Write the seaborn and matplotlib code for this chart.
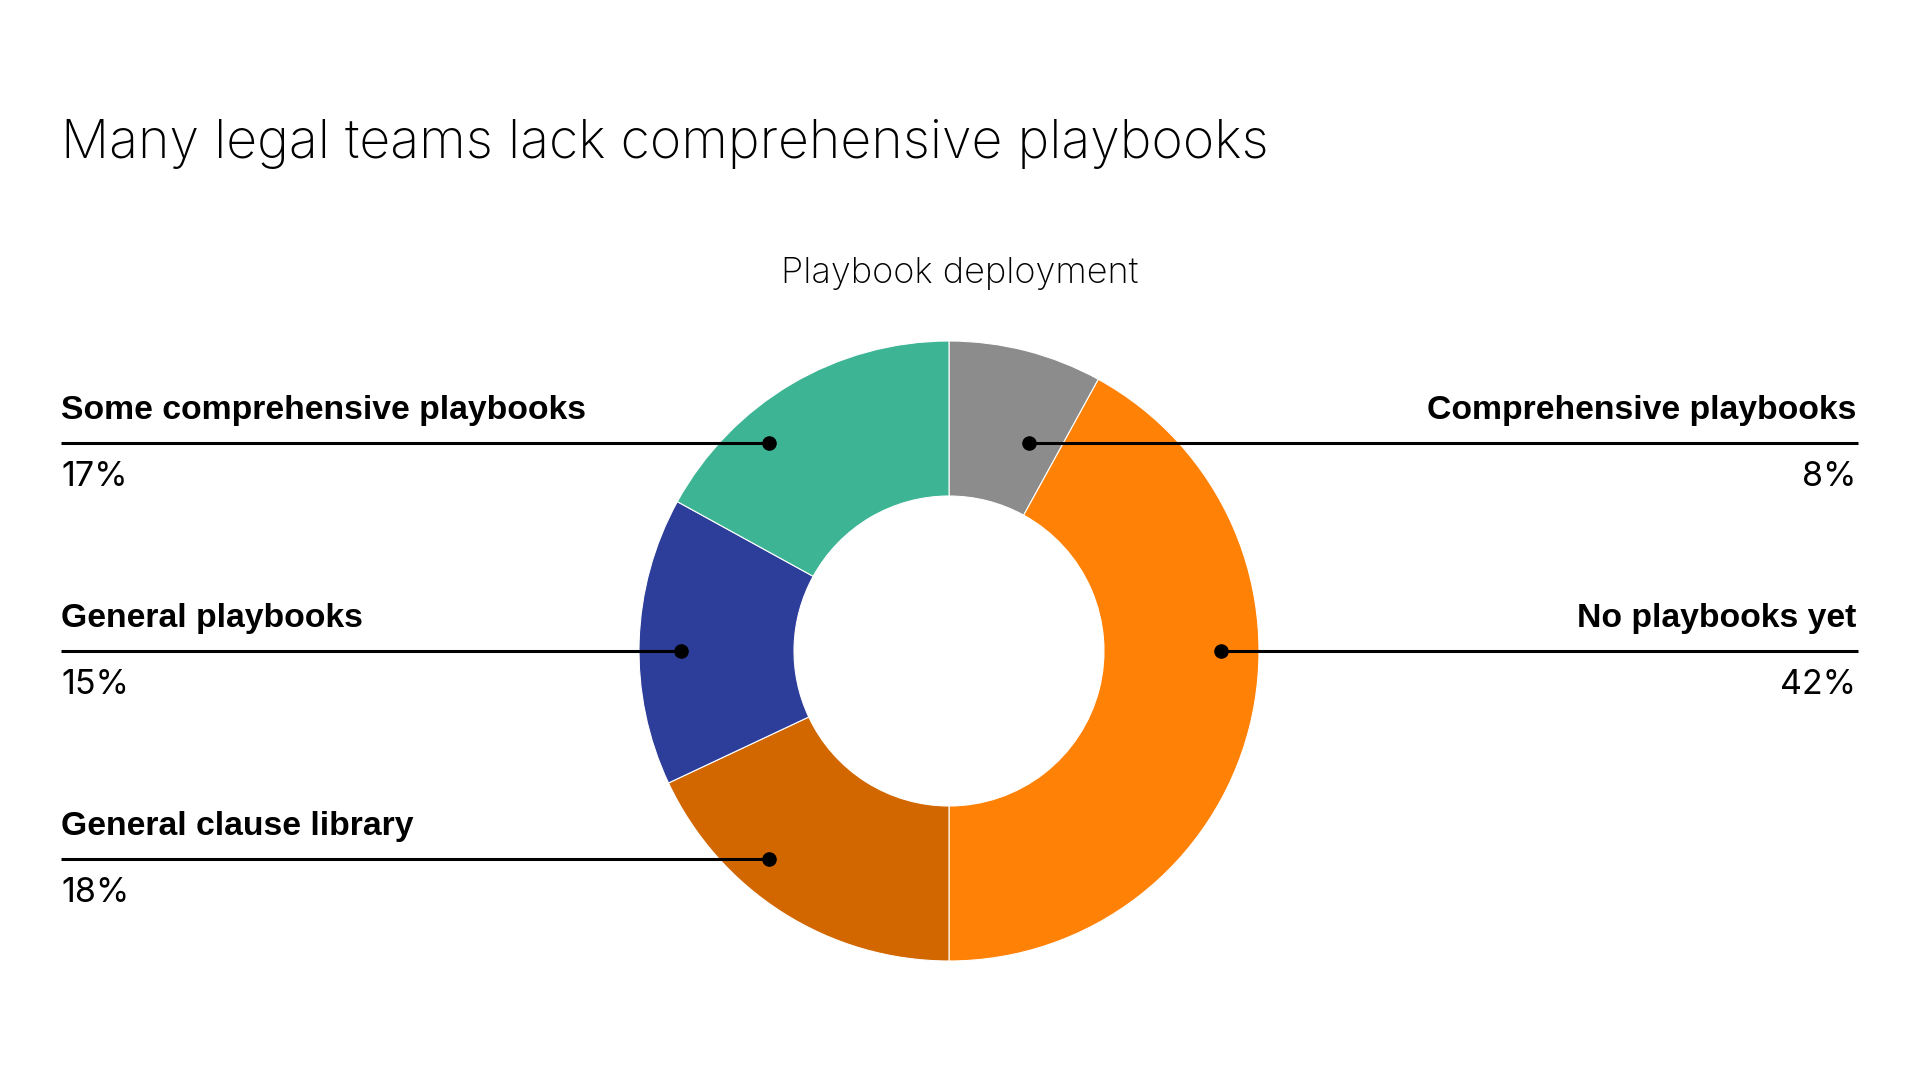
import matplotlib
matplotlib.use("Agg")
import matplotlib.pyplot as plt
import seaborn as sns

# data (clockwise from 12 o'clock)
categories = ["Comprehensive playbooks", "No playbooks yet", "General clause library",
              "General playbooks", "Some comprehensive playbooks"]
shares = [8, 42, 18, 15, 17]
slice_colors = ["#8c8c8c", "#ff8106", "#d26700", "#2d3d9a", "#3db595"]

TITLE = "Many legal teams lack comprehensive playbooks"
SUBTITLE = "Playbook deployment"

# layout (figure pixels, y up)
W, H = 1920, 1080
CX, CY = 949, 429
R = 310
ROW_STEP = 208
LEFT_X, RIGHT_X = 61, 1858
label_side = ["right", "right", "left", "left", "left"]
label_row = [1, 0, -1, 0, 1]
dot_dx = [0.258, 0.877, -0.58, -0.865, -0.58]   # fraction of R

sns.set_theme(style="white")
plt.rcParams["font.family"] = ["Liberation Sans", "DejaVu Sans"]
plt.rcParams["text.color"] = "black"

fig = plt.figure(figsize=(19.2, 10.8), dpi=100)
ax = fig.add_axes([0, 0, 1, 1])

palette = sns.color_palette(slice_colors)
ax.pie(shares, colors=palette, startangle=90, counterclock=False,
       center=(CX, CY), radius=R,
       wedgeprops=dict(width=R / 2, edgecolor="white", linewidth=0.8))
ax.set_xlim(0, W)
ax.set_ylim(0, H)
ax.set_aspect("equal")
ax.axis("off")

fig.text(LEFT_X / W, (H - 158) / H, TITLE, fontsize=38.6, family=["Inter", "Roboto"],
         fontweight="light", color="black", ha="left", va="baseline")
fig.text(0.5, (H - 283) / H, SUBTITLE, fontsize=26, family=["Inter", "Roboto"],
         fontweight="light", color="black", ha="center", va="baseline")

for name, val, side, row, dx in zip(categories, shares, label_side, label_row, dot_dx):
    y = CY + row * ROW_STEP
    x_dot = CX + dx * R
    if side == "left":
        ax.plot([LEFT_X, x_dot], [y, y], color="black", lw=2.2, solid_capstyle="butt")
        tx, ha = LEFT_X, "left"
    else:
        ax.plot([x_dot, RIGHT_X], [y, y], color="black", lw=2.2, solid_capstyle="butt")
        tx, ha = RIGHT_X - 2, "right"
    ax.scatter([x_dot], [y], s=90, color="black", zorder=5)
    ax.text(tx, y + 24, name, fontsize=24.3, family=["Liberation Sans"], fontweight="bold",
            color="black", ha=ha, va="baseline")
    ax.text(tx, y - 43, f"{val}%", fontsize=24.5, family=["Inter", "Roboto"],
            fontweight="normal", color="black", ha=ha, va="baseline")

fig.savefig("out.png", dpi=100)
